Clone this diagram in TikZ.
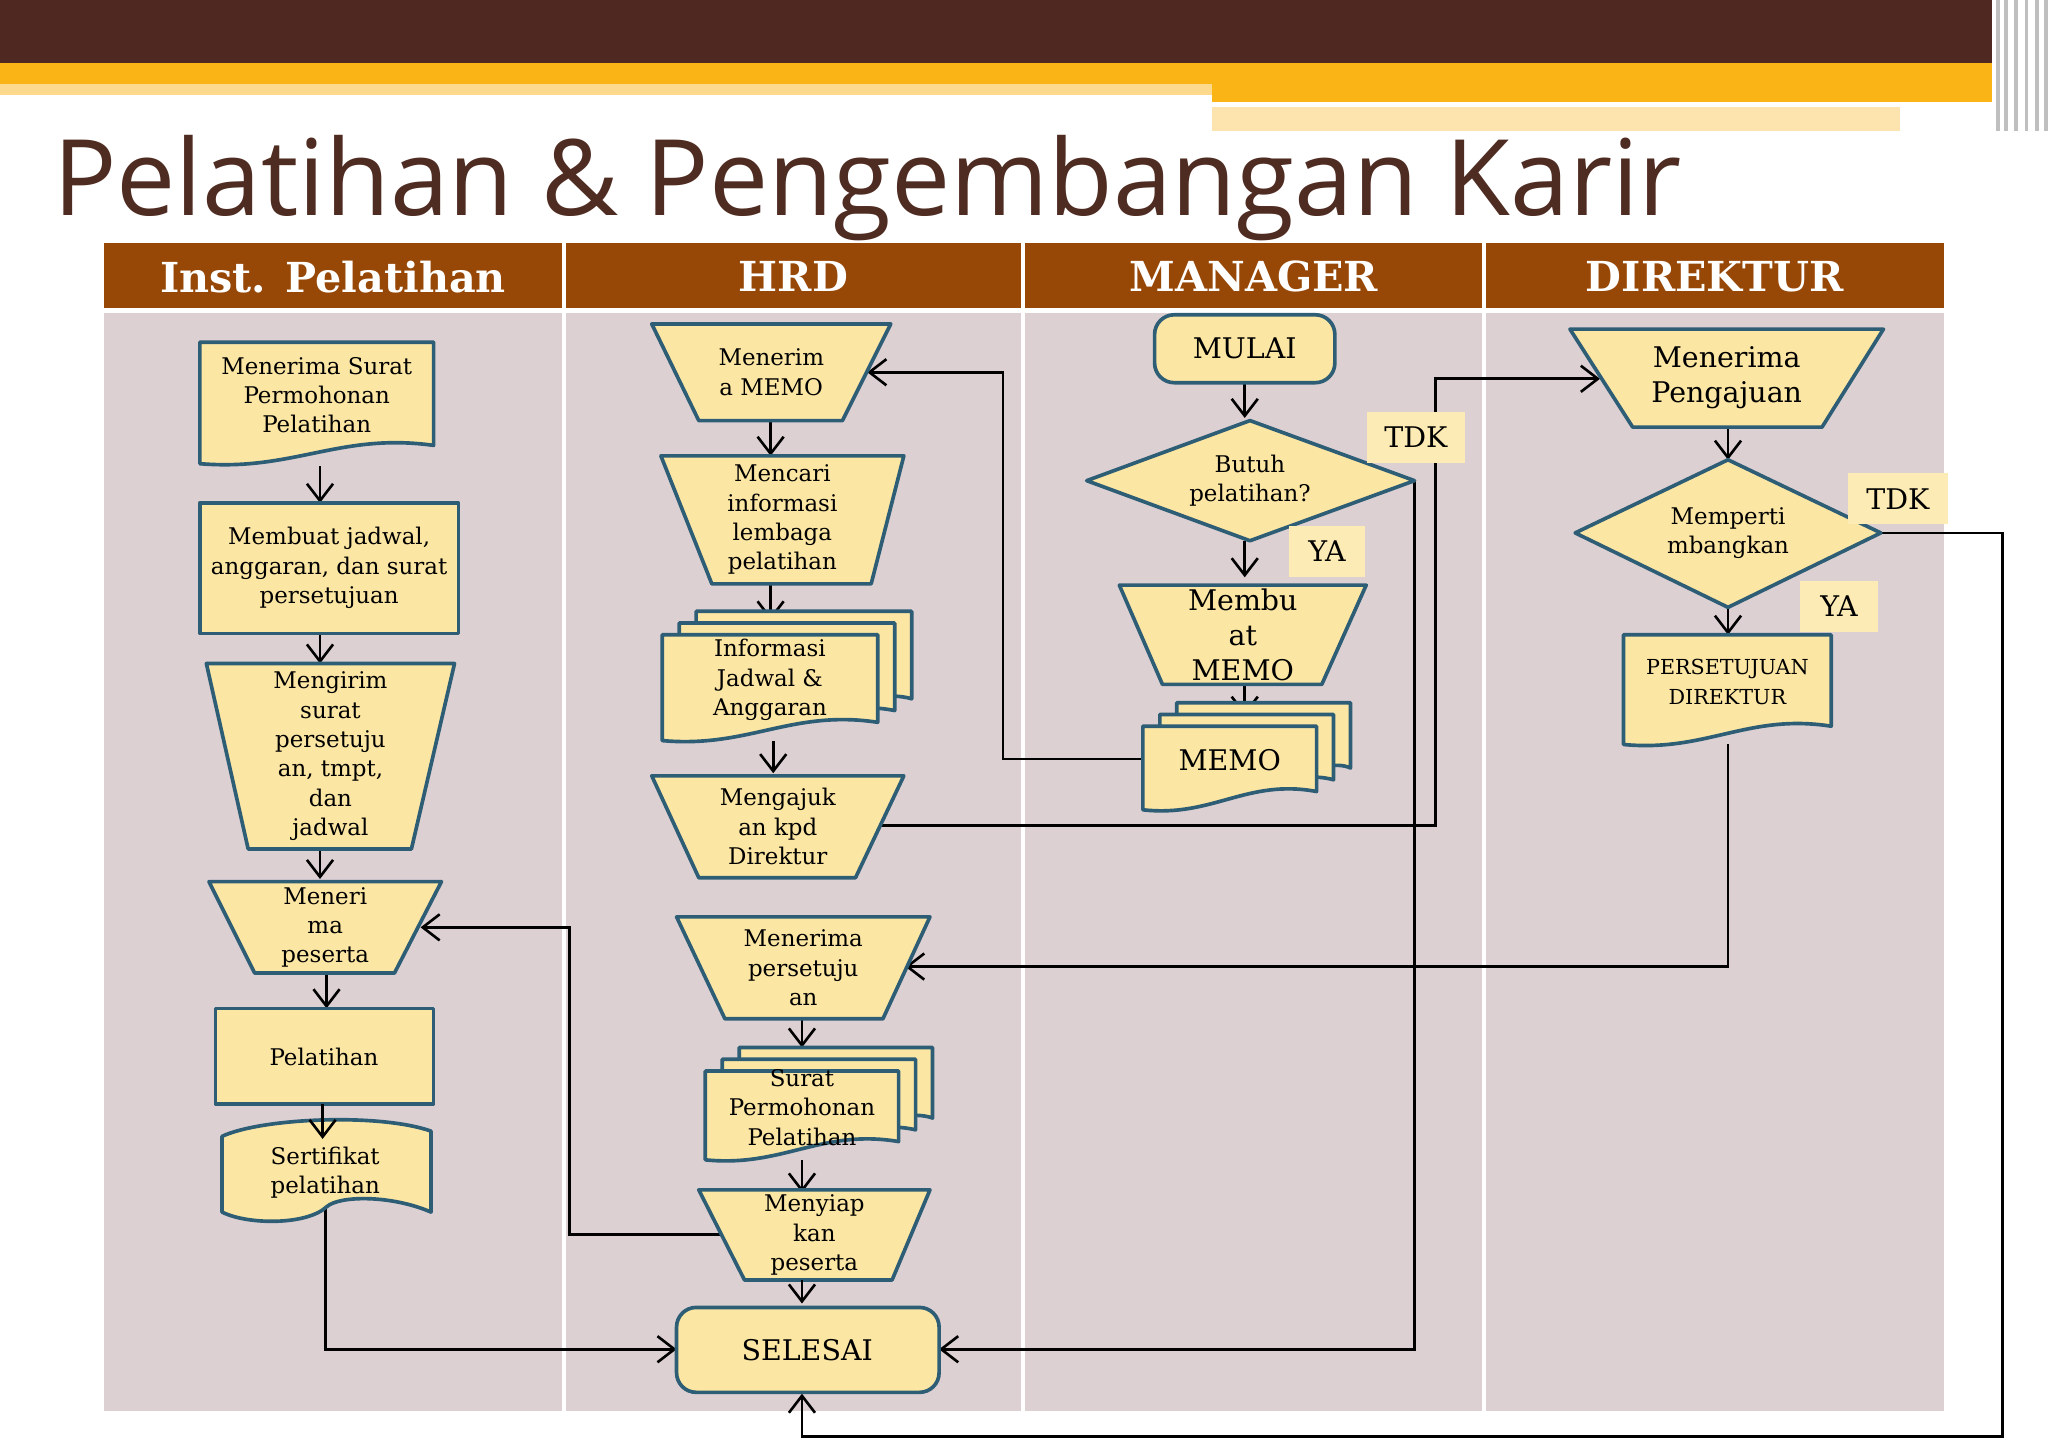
\documentclass[tikz,border=0pt]{standalone}
\usepackage{fontspec}
\setmainfont{DejaVu Serif}
\newfontfamily\titlefont{Open Sans}
\usetikzlibrary{arrows.meta}
\definecolor{fillc}{HTML}{FCE6A4}
\definecolor{bordc}{HTML}{2E5E75}
\definecolor{lanec}{HTML}{DDD0D3}
\definecolor{headc}{HTML}{974706}
\definecolor{topc}{HTML}{4E2821}
\definecolor{orc}{HTML}{FBB415}
\definecolor{palec}{HTML}{FCD98C}
\definecolor{titc}{HTML}{4F2C22}
\definecolor{labc}{HTML}{FDEBB5}
\tikzset{
 shp/.style={draw=bordc,fill=fillc,line width=0.28mm,line join=round},
 txt/.style={align=center,inner sep=0pt,font=\fontsize{5.0}{6.4}\selectfont},
 big/.style={align=center,inner sep=0pt,font=\fontsize{6.2}{7.6}\selectfont},
 con/.style={-{Straight Barb[length=1.3mm,width=2mm]},line width=0.2mm,black},
 lab/.style={fill=labc,inner sep=0pt,font=\fontsize{6.2}{7.6}\selectfont},
 hd/.style={text=white,font=\bfseries\fontsize{9}{10}\selectfont}
}
\newcommand\trapz[9]{%
 \draw[shp] (#2,#4)--(#3,#4)--(#6,#7)--(#5,#7)--cycle;
 \node[#8] (#1) at ({(#2+#3)/2},{(#4+#7)/2}) {#9};}
\newcommand\docpath[4]{%
 (#1,#3)--(#2,#3)--(#2,{#4-14}) .. controls ({#1+0.6*(#2-#1)},{#4-24}) and ({#1+0.4*(#2-#1)},{#4+6}) .. (#1,#4)--cycle}
\newcommand\docu[7]{%
 \draw[shp] \docpath{#2}{#3}{#4}{#5};
 \node[#6] (#1) at ({(#2+#3)/2},{(#4+#5)/2-6}) {#7};}
\newcommand\mdocu[7]{%
 \draw[shp] \docpath{#2+26}{#3+26}{#4-18}{#5-18};
 \draw[shp] \docpath{#2+13}{#3+13}{#4-9}{#5-9};
 \docu{#1}{#2}{#3}{#4}{#5}{#6}{#7}}
\begin{document}
\begin{tikzpicture}[x=0.1mm,y=-0.1mm]
\useasboundingbox (0,0) rectangle (1568,1107);
\fill[white] (0,0) rectangle (1568,1107);
\fill[topc] (0,0) rectangle (1568,48);
\fill[orc] (0,48) rectangle (1568,64);
\fill[palec] (0,64) rectangle (928,73);
\fill[orc] (928,64) rectangle (1568,78);
\fill[palec!70!white] (928,82) rectangle (1455,100);
\fill[white] (1525,0) rectangle (1568,100);
\foreach \xx in {1528,1534,1542,1550,1558,1565}{\fill[gray!50] (\xx,0) rectangle (\xx+3,100);}
\node[anchor=base west,text=titc,font=\titlefont\fontsize{23}{26}\selectfont,inner sep=0] (title) at (40,165) {Pelatihan \& Pengembangan Karir};
\foreach \a/\b/\t/\n in {80/430/Inst. Pelatihan/h1,433/782/HRD/h2,785/1135/MANAGER/h3,1138/1488/DIREKTUR/h4}{
 \fill[headc] (\a,186) rectangle (\b,236);
 \fill[lanec] (\a,240) rectangle (\b,1080);
 \node[hd] (\n) at ({(\a+\b)/2},212) {\t};}
\draw[con] (245,357) -- (245,385);
\draw[con] (245,485) -- (245,508);
\draw[con] (245,640) -- (245,673);
\draw[con] (250,745) -- (250,772);
\draw[con] (249,925) |- (518,1033);
\draw[con] (552,945) -- (436,945) |- (322,710);
\draw[con] (590,322) -- (590,349);
\draw[con] (590,447) -- (590,475);
\draw[con] (592,567) -- (592,592);
\draw[con] (672,632) -- (1099,632) |- (1225,290);
\draw[con] (875,581) -- (768,581) |- (664,285);
\draw[con] (953,293) -- (953,320);
\draw[con] (953,414) -- (953,442);
\draw[con] (953,524) -- (953,548);
\draw[con] (1083,368) |- (719,1033);
\draw[con] (1323,327) -- (1323,352);
\draw[con] (1323,465) -- (1323,486);
\draw[con] (1440,408) -- (1533,408) -- (1533,1100) -| (614,1067);
\draw[con] (1323,570) |- (693,740);
\draw[con] (614,780) -- (614,802);
\draw[con] (614,888) -- (614,913);
\docu{a1}{153}{332}{262}{355}{txt}{Menerima Surat\\Permohonan\\Pelatihan}
\draw[shp] (153,385) rectangle (351,485);
\node[txt] (a2) at (252,435) {Membuat jadwal,\\anggaran, dan surat\\persetujuan};
\trapz{a3}{158}{348}{508}{190}{315}{650}{txt}{Mengirim\\surat\\persetuju\\an, tmpt,\\dan\\jadwal}
\trapz{a4}{160}{338}{675}{195}{302}{745}{txt}{Meneri\\ma\\peserta}
\draw[shp] (165,772) rectangle (332,845);
\node[txt] (a5) at (248,809) {Pelatihan};
\draw[shp] (170,870) .. controls (200,856) and (290,852) .. (330,866) -- (330,928) .. controls (300,915) and (260,915) .. (250,924) .. controls (235,938) and (190,938) .. (170,928) -- cycle;
\node[txt] (a6) at (249,898) {Sertifikat\\pelatihan};
\draw[con] (247,845) -- (247,872);
\trapz{b1}{499}{682}{248}{535}{645}{322}{txt}{Menerim\\a MEMO}
\trapz{b2}{506}{692}{349}{545}{667}{447}{txt}{Mencari\\informasi\\lembaga\\pelatihan}
\mdocu{b3}{507}{672}{486}{567}{txt}{Informasi\\Jadwal \&\\Anggaran}
\trapz{b4}{499}{692}{594}{535}{655}{672}{txt}{Mengajuk\\an kpd\\Direktur}
\trapz{b5}{518}{712}{702}{555}{676}{780}{txt}{Menerima\\persetuju\\an}
\mdocu{b6}{540}{688}{820}{888}{txt}{Surat\\Permohonan\\Pelatihan}
\trapz{b7}{535}{712}{911}{570}{683}{980}{txt}{Menyiap\\kan\\peserta}
\draw[con] (614,980) -- (614,998);
\draw[shp,rounded corners=1.5mm] (518,1001) rectangle (719,1066);
\node[big] (end) at (618,1034) {SELESAI};
\draw[shp,rounded corners=1.5mm] (884,241) rectangle (1022,293);
\node[big] (start) at (953,267) {MULAI};
\draw[shp] (832,368)--(957,322)--(1083,368)--(957,414)--cycle;
\node[txt] (c1) at (957,368) {Butuh\\pelatihan?};
\node[lab,minimum width=7.5mm,minimum height=3.9mm] (tdk1) at (1084,335) {TDK};
\node[lab,minimum width=5.8mm,minimum height=3.9mm] (ya1) at (1016,422) {YA};
\trapz{c2}{857}{1046}{448}{890}{1012}{524}{big}{Membu\\at\\MEMO}
\mdocu{c3}{875}{1008}{556}{620}{big}{MEMO}
\trapz{d1}{1202}{1442}{252}{1250}{1395}{327}{big}{Menerima\\Pengajuan}
\draw[shp] (1206,408)--(1323,352)--(1440,408)--(1323,465)--cycle;
\node[txt] (d2) at (1323,408) {Memperti\\mbangkan};
\node[lab,minimum width=7.7mm,minimum height=3.9mm] (tdk2) at (1453,382) {TDK};
\node[lab,minimum width=6mm,minimum height=3.9mm] (ya2) at (1408,464) {YA};
\docu{d3}{1243}{1402}{486}{570}{txt}{\fontsize{4.5}{5.6}\selectfont PERSETUJUAN\\\fontsize{4.5}{5.6}\selectfont DIREKTUR}
\end{tikzpicture}
\end{document}
